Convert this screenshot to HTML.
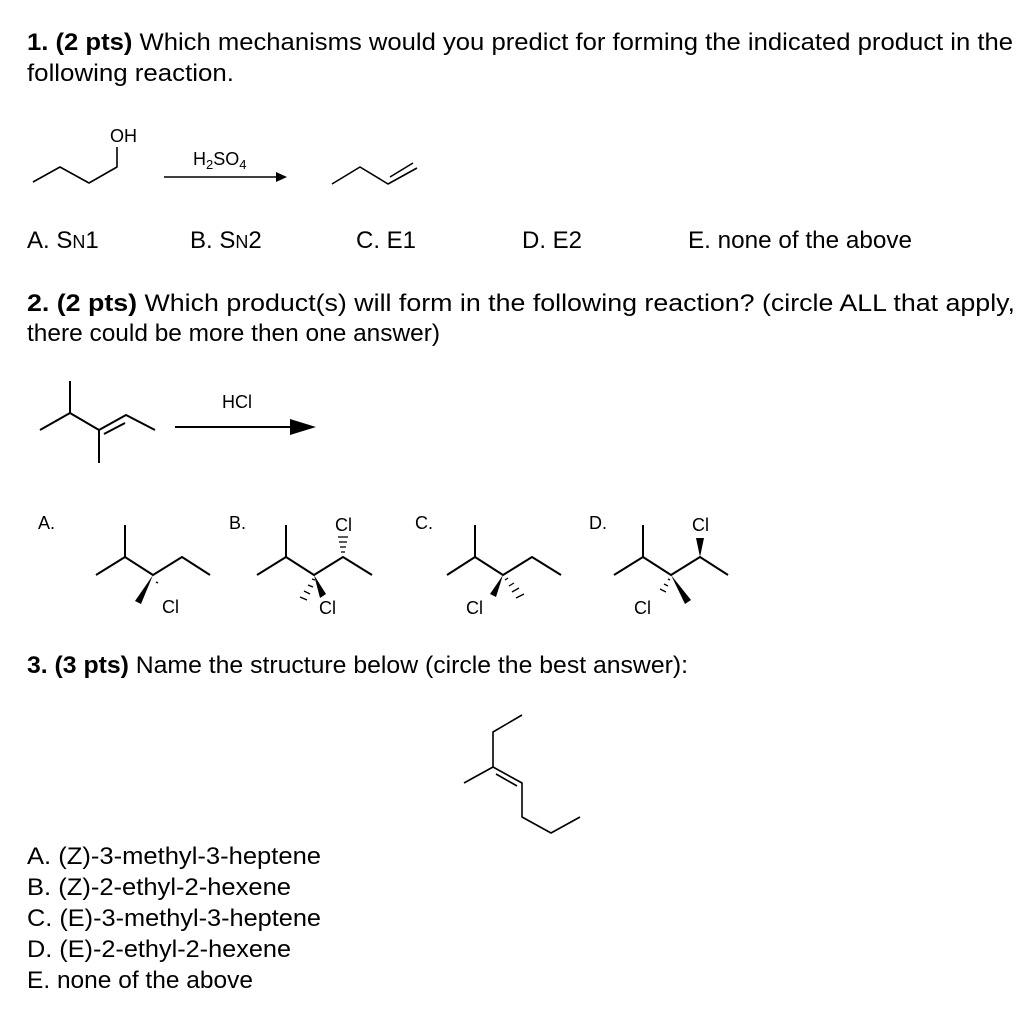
<!DOCTYPE html>
<html><head><meta charset="utf-8"><style>
html,body{margin:0;padding:0;background:#fff;}
svg{display:block;font-family:"Liberation Sans",Arial,sans-serif;}
text{fill:#000;}
.b{font-weight:bold;}
</style></head><body>
<svg width="1024" height="1009" viewBox="0 0 1024 1009">
<g font-size="24">
<text x="27" y="50" textLength="986" lengthAdjust="spacingAndGlyphs"><tspan class="b">1. (2 pts)</tspan> Which mechanisms would you predict for forming the indicated product in the</text>
<text x="27" y="81" textLength="207" lengthAdjust="spacingAndGlyphs">following reaction.</text>
<text x="27" y="248">A. S<tspan font-size="18">N</tspan>1</text>
<text x="190" y="248">B. S<tspan font-size="18">N</tspan>2</text>
<text x="356" y="248">C. E1</text>
<text x="522" y="248">D. E2</text>
<text x="688" y="248" textLength="224" lengthAdjust="spacingAndGlyphs">E. none of the above</text>
<text x="27" y="311" textLength="988" lengthAdjust="spacingAndGlyphs"><tspan class="b">2. (2 pts)</tspan> Which product(s) will form in the following reaction? (circle ALL that apply,</text>
<text x="27" y="341" textLength="413" lengthAdjust="spacingAndGlyphs">there could be more then one answer)</text>
<text x="27" y="673" textLength="661" lengthAdjust="spacingAndGlyphs"><tspan class="b">3. (3 pts)</tspan> Name the structure below (circle the best answer):</text>
<text x="27" y="864" textLength="294" lengthAdjust="spacingAndGlyphs">A. (Z)-3-methyl-3-heptene</text>
<text x="27" y="895" textLength="264" lengthAdjust="spacingAndGlyphs">B. (Z)-2-ethyl-2-hexene</text>
<text x="27" y="926" textLength="294" lengthAdjust="spacingAndGlyphs">C. (E)-3-methyl-3-heptene</text>
<text x="27" y="957" textLength="264" lengthAdjust="spacingAndGlyphs">D. (E)-2-ethyl-2-hexene</text>
<text x="27" y="988" textLength="226" lengthAdjust="spacingAndGlyphs">E. none of the above</text>
</g>
<g font-size="18">
<text x="110" y="142">OH</text>
<text x="193" y="165">H<tspan font-size="13" dy="4">2</tspan><tspan dy="-4">SO</tspan><tspan font-size="13" dy="4">4</tspan></text>
<text x="222" y="408">HCl</text>
<text x="38" y="529">A.</text>
<text x="229" y="529">B.</text>
<text x="415" y="529">C.</text>
<text x="589" y="529">D.</text>
<text x="162" y="613">Cl</text>
<text x="335" y="531">Cl</text>
<text x="319" y="614">Cl</text>
<text x="466" y="614">Cl</text>
<text x="692" y="531">Cl</text>
<text x="634" y="614">Cl</text>
</g>
<g stroke="#000" stroke-width="1.6" fill="none" stroke-linejoin="round">
<polyline points="33,182 60,167 89,183 117,167 117,147"/>
<line x1="164" y1="177" x2="276" y2="177"/>
<polyline points="332,184 360,167 388,184 417,168"/>
<line x1="390" y1="177" x2="413" y2="163"/>
<polyline points="40,430 70,413 99,430 126,415 155,430" stroke-width="2"/>
<line x1="70" y1="413" x2="70" y2="381" stroke-width="2"/>
<line x1="99" y1="430" x2="99" y2="463" stroke-width="2"/>
<line x1="104" y1="434" x2="125" y2="423" stroke-width="2"/>
<line x1="175" y1="427" x2="295" y2="427" stroke-width="2"/>
<g stroke-width="2">
<polyline points="96,575 125,557 153,575 182,557 210,575"/><line x1="125" y1="557" x2="125" y2="525"/>
<polyline points="257,575 286,557 314,575 343,557 372,575"/><line x1="286" y1="557" x2="286" y2="525"/>
<polyline points="447,575 475,557 503,575 532,557 561,575"/><line x1="475" y1="557" x2="475" y2="525"/>
<polyline points="614,575 643,557 671,575 700,557 728,575"/><line x1="643" y1="557" x2="643" y2="525"/>
</g>
<polyline points="522,715 493,732 493,767 464,783"/>
<polyline points="493,767 522,783 522,817 551,833 580,817"/>
<line x1="496" y1="774" x2="517" y2="786"/>
</g>
<g fill="#000">
<polygon points="276,172 287,177 276,182"/>
<polygon points="290,419 316,427 290,435"/>
<polygon points="153,575 135,601 141,604"/>
<polygon points="314,575 320,598 326,594"/>
<polygon points="503,575 490,594 496,597"/>
<polygon points="700,557 696,538 704,538"/>
<polygon points="671,575 685,604 691,600"/>
</g>
<g stroke="#000" stroke-width="1.3">
<line x1="156" y1="582" x2="158" y2="583"/>
<line x1="312" y1="579" x2="315" y2="580"/><line x1="308" y1="585" x2="313" y2="587"/><line x1="304" y1="591" x2="310" y2="594"/><line x1="300" y1="597" x2="307" y2="600"/>
<line x1="341" y1="552" x2="345" y2="552"/><line x1="340" y1="547" x2="346" y2="547"/><line x1="339" y1="542" x2="347" y2="542"/><line x1="338" y1="537" x2="348" y2="537"/>
<line x1="505" y1="580" x2="508" y2="578"/><line x1="509" y1="586" x2="514" y2="583"/><line x1="512" y1="592" x2="519" y2="588"/><line x1="516" y1="598" x2="524" y2="594"/>
<line x1="668" y1="579" x2="670" y2="580"/><line x1="664" y1="584" x2="668" y2="586"/><line x1="660" y1="589" x2="666" y2="592"/>
</g>
</svg>
</body></html>
